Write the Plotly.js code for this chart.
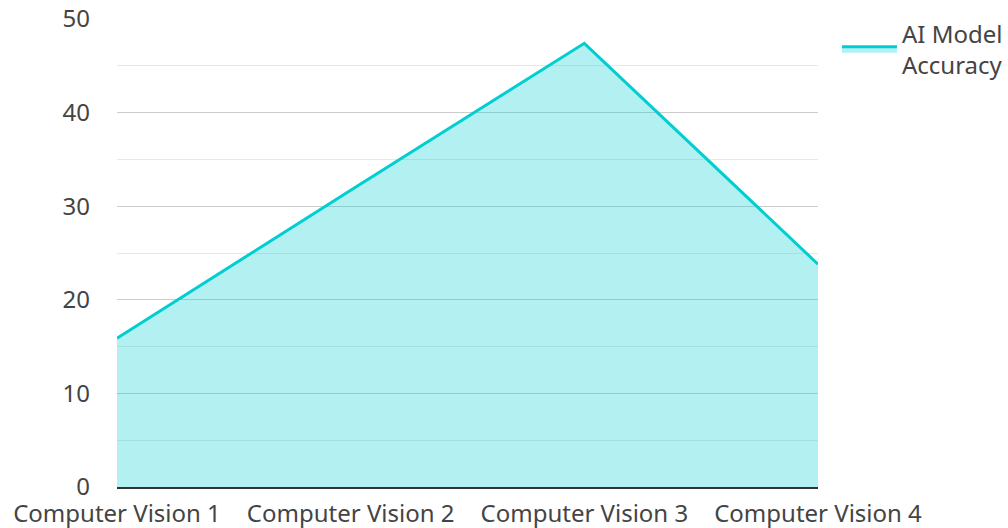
<!DOCTYPE html>
<html>
<head>
<meta charset="utf-8">
<script src="https://cdn.plot.ly/plotly-3.0.1.min.js"></script>
<style>html,body{margin:0;padding:0;background:#fff;}#chart{width:1008px;height:528px;}</style>
</head>
<body>
<div id="chart"></div>
<script>
var categories = ["Computer Vision 1", "Computer Vision 2", "Computer Vision 3", "Computer Vision 4"];
var accuracy = [15.9, 31.7, 47.4, 23.8];
var seriesName = "AI Model<br>Accuracy";
var yTicks = [0, 10, 20, 30, 40, 50];

var trace = {
  type: "scatter",
  mode: "lines",
  x: categories,
  y: accuracy,
  name: seriesName,
  fill: "tozeroy",
  fillcolor: "rgba(0,206,209,0.3)",
  line: {color: "#00CED1", width: 3}
};

var layout = {
  width: 1008,
  height: 528,
  margin: {l: 117, r: 190, t: 19, b: 41, autoexpand: false},
  paper_bgcolor: "#fff",
  plot_bgcolor: "#fff",
  font: {family: "Noto Sans, Open Sans, sans-serif", size: 24, color: "#444"},
  showlegend: true,
  legend: {x: 1.027, y: 1.017, xanchor: "left", yanchor: "top", font: {size: 24, color: "#444"}, itemwidth: 55, tracegroupgap: 0},
  xaxis: {
    type: "category",
    range: [0, 3],
    showgrid: false,
    showline: true,
    linecolor: "#333",
    linewidth: 2,
    ticks: "",
    tickfont: {size: 24, color: "#444"},
    ticklabelstandoff: 4,
    zeroline: false
  },
  yaxis: {
    range: [0, 50],
    tickvals: yTicks,
    showgrid: true,
    gridcolor: "#ccc",
    gridwidth: 1,
    minor: {dtick: 5, showgrid: true, gridcolor: "#e8e8e8", gridwidth: 1},
    zeroline: false,
    showline: false,
    ticks: "",
    tickfont: {size: 24, color: "#444"},
    ticklabelstandoff: 26
  }
};

Plotly.newPlot("chart", [trace], layout, {displayModeBar: false, staticPlot: true});
</script>
</body>
</html>
